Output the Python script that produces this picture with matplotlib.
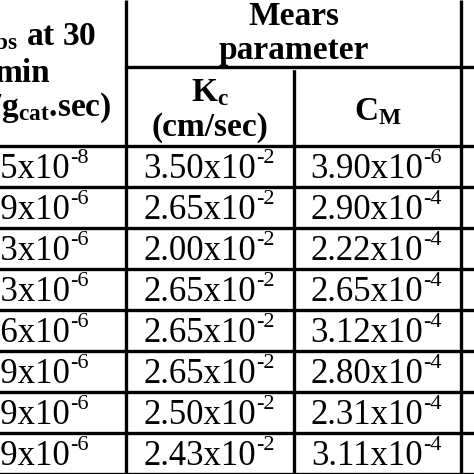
import matplotlib
matplotlib.use('Agg')
import matplotlib.pyplot as plt

plt.rcParams['font.family'] = ['Liberation Serif', 'DejaVu Serif']
plt.rcParams['mathtext.fontset'] = 'custom'
plt.rcParams['mathtext.rm'] = 'Liberation Serif'
plt.rcParams['mathtext.bf'] = 'Liberation Serif:bold'
plt.rcParams['mathtext.default'] = 'regular'

# table values (first column is cut off in the reference)
rate_mant = ['1.25', '1.69', '1.73', '1.83', '1.96', '1.79', '1.59', '1.49']
rate_exp = ['-8', '-6', '-6', '-6', '-6', '-6', '-6', '-6']
kc_mant = ['3.50', '2.65', '2.00', '2.65', '2.65', '2.65', '2.50', '2.43']
kc_exp = ['-2'] * 8
cm_mant = ['3.90', '2.90', '2.22', '2.65', '3.12', '2.80', '2.31', '3.11']
cm_exp = ['-6', '-4', '-4', '-4', '-4', '-4', '-4', '-4']

fig = plt.figure(figsize=(4.74, 4.74), dpi=100)
ax = fig.add_axes([0, 0, 1, 1])
ax.set_xlim(0, 474)
ax.set_ylim(474, 0)
ax.axis('off')

lw = 2.4
for x in [126, 294, 461]:
    ax.plot([x, x], [0, 474], color='black', lw=lw, solid_capstyle='butt')
ax.plot([294, 294], [0, 67], color='white', lw=lw + 1.5)
ax.plot([126, 474], [67, 67], color='black', lw=lw)
header_bottom = 146
row_h = 41
for i in range(len(kc_mant) + 1):
    y = header_bottom + i * row_h
    ax.plot([0, 474], [y, y], color='black', lw=lw)

fs = 25
hfs = 24
# headers
ax.text(96, 37, r'r$_{\mathbf{abs}}$ at 30', fontsize=hfs, fontweight='bold', ha='right', va='center')
ax.text(-6, 73, 'min', fontsize=hfs, fontweight='bold', ha='left', va='center')
ax.text(111, 108, r'(mol/g$_{\mathbf{cat}}$.sec)', fontsize=hfs, fontweight='bold', ha='right', va='center')
ax.text(294, 16, 'Mears', fontsize=hfs, fontweight='bold', ha='center', va='center')
ax.text(294, 50, 'parameter', fontsize=hfs, fontweight='bold', ha='center', va='center')
ax.text(210, 93, r'K$_{\mathbf{c}}$', fontsize=hfs, fontweight='bold', ha='center', va='center')
ax.text(210, 127, '(cm/sec)', fontsize=hfs, fontweight='bold', ha='center', va='center')
ax.text(378, 112, r'C$_{\mathbf{M}}$', fontsize=hfs, fontweight='bold', ha='center', va='center')


def cell(x, y, mant, exp, ha):
    t = ax.text(x, y, mant + 'x10', fontsize=fs, ha=ha, va='center')
    ax.annotate(exp, xy=(1, 1), xycoords=t, xytext=(0, 3), textcoords='offset points',
                fontsize=16, ha='left', va='top')


for i in range(len(kc_mant)):
    y = header_bottom + i * row_h + row_h / 2 + 3
    cell(70, y, rate_mant[i], rate_exp[i], 'right')
    cell(200, y, kc_mant[i], kc_exp[i], 'center')
    cell(367, y, cm_mant[i], cm_exp[i], 'center')

fig.savefig('out.png', dpi=100)
